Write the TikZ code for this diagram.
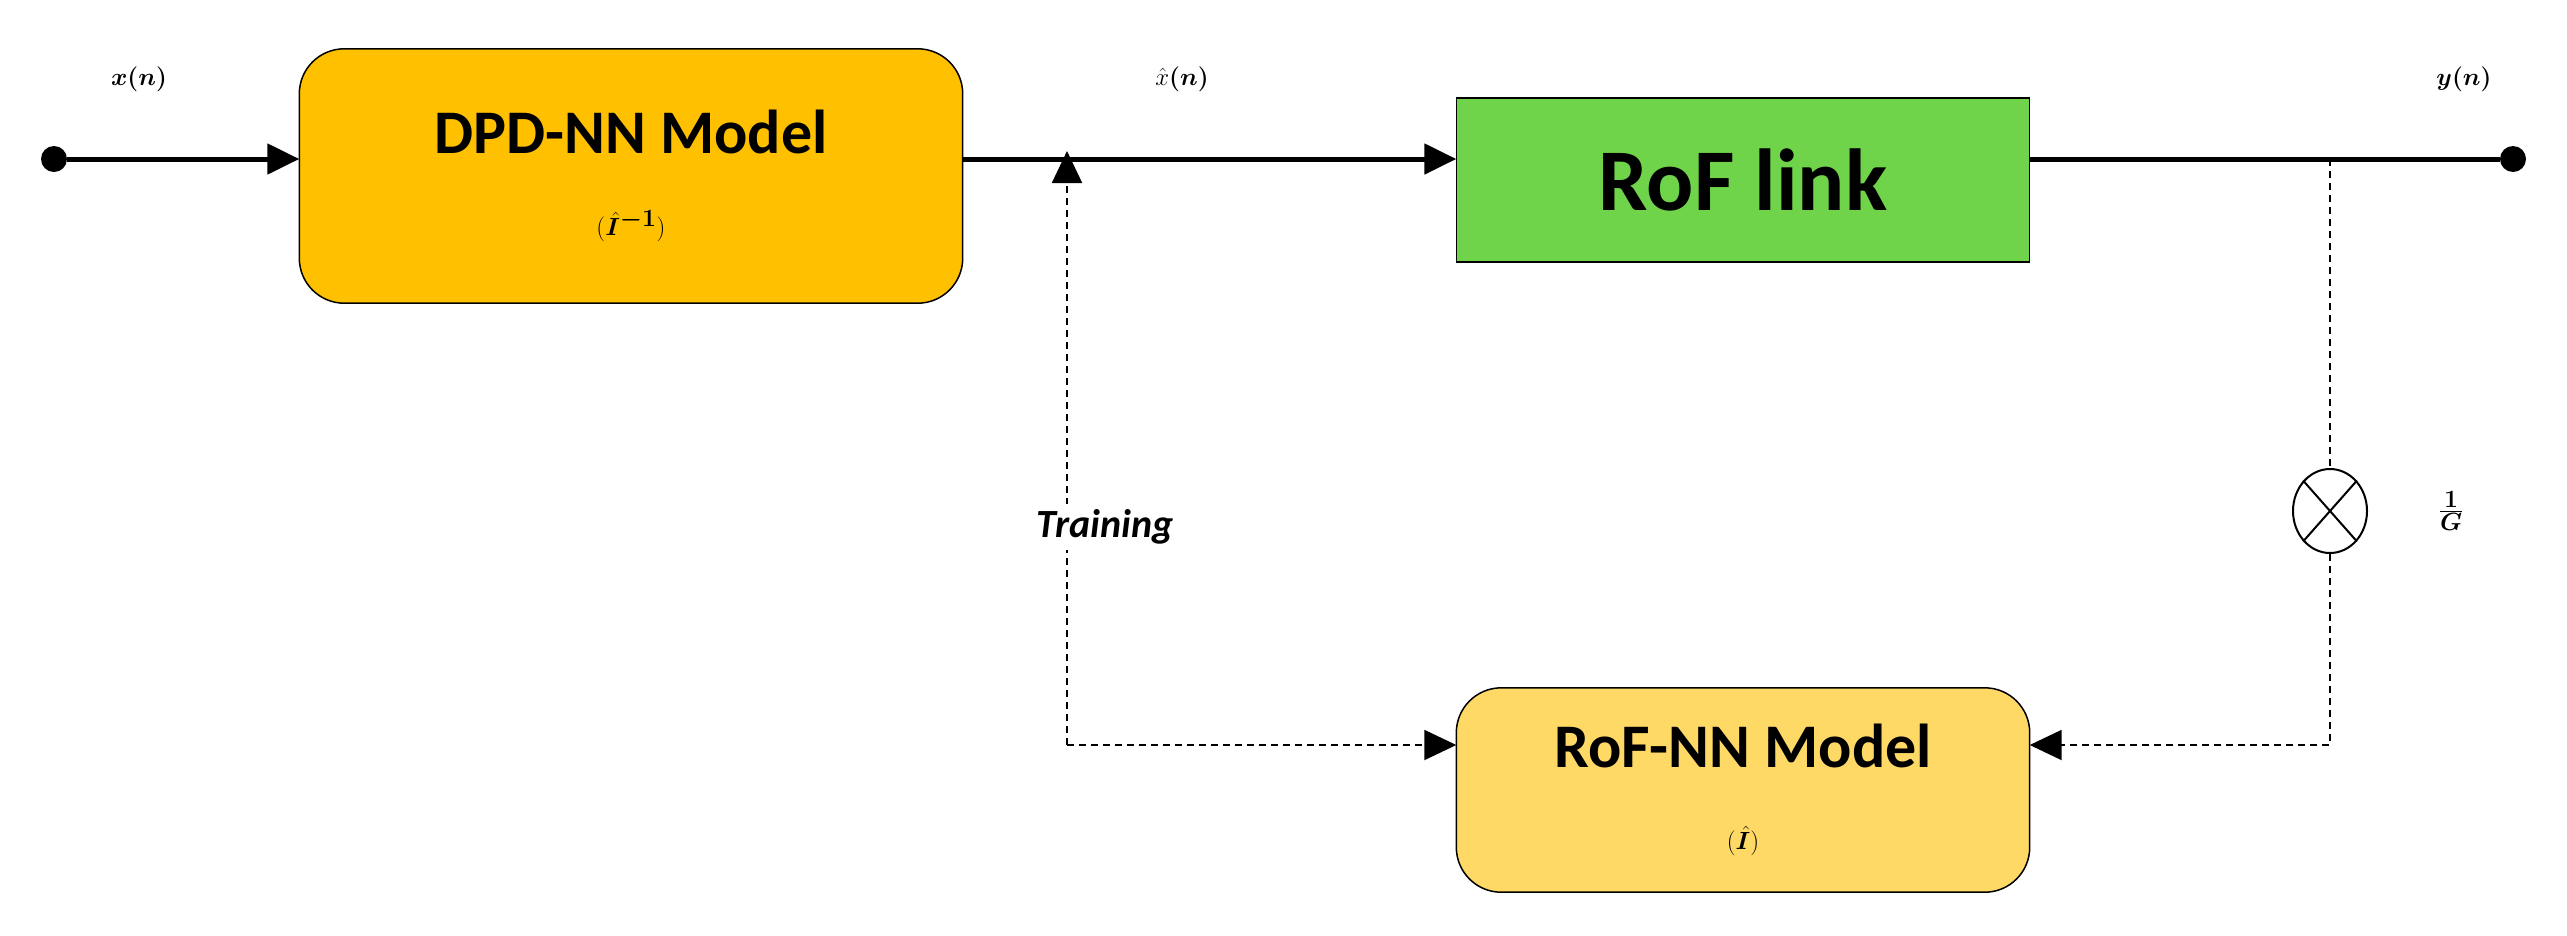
\documentclass[tikz,border=0pt]{standalone}
\usepackage{amsmath,bm}
\usepackage{fontspec}
\setmainfont{Carlito}
\usetikzlibrary{arrows.meta,backgrounds,shapes.geometric}
\definecolor{dpdc}{HTML}{FFC000}
\definecolor{rofc}{HTML}{6FD44A}
\definecolor{nnc}{HTML}{FFD966}
\begin{document}
\begin{tikzpicture}[x=1pt,y=-1pt,
    blk/.style={minimum width=#1, inner sep=0pt, font=\fontsize{62}{72}\selectfont\bfseries, align=center},
    lbl/.style={font=\fontsize{44}{50}\selectfont},
    main/.style={line width=5pt, -{Triangle[length=32pt,width=30pt]}},
    fb/.style={line width=2pt, dash pattern=on 7pt off 5pt, -{Triangle[length=32pt,width=30pt]}},
    dotn/.style={circle, fill, inner sep=0pt, minimum size=26pt}]
\useasboundingbox (0,0) rectangle (2567,935);
% blocks
\node[blk=663pt, minimum height=254pt] (dpd) at (631,176) {DPD-NN Model\\[10pt]$(\hat{\bm I}^{\bm{-1}})$};
\node[blk=573pt, minimum height=164pt, font=\fontsize{88}{96}\selectfont\bfseries] (rof) at (1743,180) {RoF link};
\node[blk=573pt, minimum height=204pt] (nn) at (1743,790) {RoF-NN Model\\[10pt]$(\hat{\bm I})$};
\begin{scope}[on background layer]
\draw[fill=dpdc, line width=1.5pt] (dpd.south west) [rounded corners=45pt] -- (dpd.north west) -- (dpd.north east) [sharp corners] [rounded corners=45pt] -- (dpd.south east) -- cycle;
\draw[fill=rofc, line width=1.5pt] (rof.south west) rectangle (rof.north east);
\draw[fill=nnc, line width=1.5pt] (nn.south west) [rounded corners=45pt] -- (nn.north west) -- (nn.north east) [sharp corners] [rounded corners=45pt] -- (nn.south east) -- cycle;
\end{scope}
% terminals and junctions
\node[dotn] (in) at (54,159) {};
\node[dotn] (out) at (2513,159) {};
\coordinate (dpdo) at (dpd.east |- in);
\coordinate (rofi) at (rof.west |- in);
\coordinate (rofo) at (rof.east |- in);
\coordinate (tap) at (1067,159);
\coordinate (tapb) at (1067,745);
\coordinate (ytap) at (2330,159);
\coordinate (ytapb) at (2330,745);
\node[draw, line width=2pt, ellipse, minimum width=74pt, minimum height=84pt, inner sep=0pt] (mul) at (2330,511) {};
\draw[line width=2pt] (mul.north west) -- (mul.south east) (mul.north east) -- (mul.south west);
% signal path
\draw[main] (in) -- (dpd.west |- in);
\draw[main] (dpdo) -- (rofi);
\draw[line width=5pt] (rofo) -- (out);
% training paths
\draw[fb] (tapb) -- ([yshift=8pt]tap);
\draw[fb] (tapb) -- (nn.west |- tapb);
\draw[line width=2pt, dash pattern=on 7pt off 5pt] (ytap) -- (mul.north);
\draw[fb] (mul.south) -- (ytapb) -- (nn.east |- ytapb);
% labels
\node[lbl] (lx) at (139,79) {$\bm{x(n)}$};
\node[lbl] (lxh) at (1182,79) {$\hat{x}\bm{(n)}$};
\node[lbl] (ly) at (2464,79) {$\bm{y(n)}$};
\node[lbl] (lg) at (2451,511) {$\bm{\frac{1}{G}}$};
\node[font=\fontsize{40}{46}\selectfont\bfseries\itshape, fill=white, inner sep=6pt] (tr) at (1105,527) {Training};
\end{tikzpicture}
\end{document}
